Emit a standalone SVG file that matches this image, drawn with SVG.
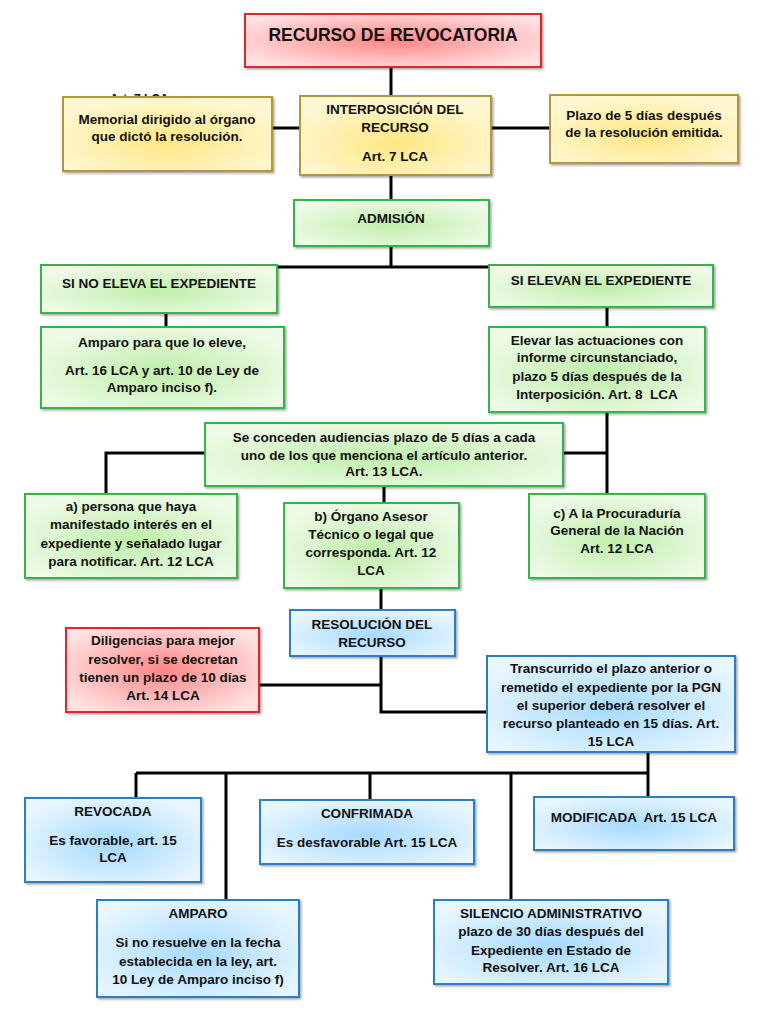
<svg xmlns="http://www.w3.org/2000/svg" width="768" height="1024" viewBox="0 0 768 1024">
<defs>
<radialGradient id="gR" cx="0.5" cy="0.5" r="0.6"><stop offset="0" stop-color="#ff8585"/><stop offset="1" stop-color="#ffe2e2"/></radialGradient>
<radialGradient id="gY" cx="0.5" cy="0.6" r="0.6"><stop offset="0" stop-color="#fde782"/><stop offset="1" stop-color="#fff7d2"/></radialGradient>
<radialGradient id="gG" cx="0.5" cy="0.55" r="0.6"><stop offset="0" stop-color="#bfeeaa"/><stop offset="1" stop-color="#effbe8"/></radialGradient>
<radialGradient id="gB" cx="0.5" cy="0.55" r="0.6"><stop offset="0" stop-color="#a6daff"/><stop offset="1" stop-color="#e8f6ff"/></radialGradient>
<filter id="sh" x="-5%" y="-5%" width="110%" height="115%"><feDropShadow dx="1.5" dy="1.5" stdDeviation="0.8" flood-color="#000" flood-opacity="0.35"/></filter>
</defs>
<style>
.t{font-family:"Liberation Sans",Arial,sans-serif;font-weight:bold;font-size:13.5px;text-anchor:middle;fill:#111;white-space:pre}
.ti{font-size:17.5px}
.r{fill:url(#gR);stroke:#e0262c;stroke-width:2;filter:url(#sh)}
.y{fill:url(#gY);stroke:#b3953a;stroke-width:2;filter:url(#sh)}
.g{fill:url(#gG);stroke:#35b548;stroke-width:2;filter:url(#sh)}
.b{fill:url(#gB);stroke:#2a7fc4;stroke-width:2;filter:url(#sh)}
.c{fill:none;stroke:#000;stroke-width:3}
</style>
<rect width="768" height="1024" fill="#fff"/>
<text class="t" x="110" y="103" style="text-anchor:start;font-size:12px">Art. 7 LCA</text>
<g id="connectors">
<path class="c" d="M391 67V96"/>
<path class="c" d="M272 128H300"/>
<path class="c" d="M491 128H550"/>
<path class="c" d="M391 175V200"/>
<path class="c" d="M391 246V267M277 267H489"/>
<path class="c" d="M166 313V327"/>
<path class="c" d="M607 307V327"/>
<path class="c" d="M607 412V494M563 453H607"/>
<path class="c" d="M205 453H106V494"/>
<path class="c" d="M384 486V503"/>
<path class="c" d="M381 588V610"/>
<path class="c" d="M381 656V712H487M259 685H381"/>
<path class="c" d="M648 752V797M136 773H648M136 773V798M226 773V900M370 773V800M511 773V900"/>
</g>
<g id="titulo"><rect class="r" x="245" y="14" width="296" height="53"/><text class="t ti" x="393" y="41">RECURSO DE REVOCATORIA</text></g>
<g id="memorial"><rect class="y" x="63" y="97" width="209" height="74"/><text class="t" x="167" y="124">Memorial dirigido al órgano</text><text class="t" x="167" y="141">que dictó la resolución.</text></g>
<g id="interposicion"><rect class="y" x="300" y="96" width="191" height="79"/><text class="t" x="395" y="114">INTERPOSICIÓN DEL</text><text class="t" x="395" y="132">RECURSO</text><text class="t" x="395" y="161">Art. 7 LCA</text></g>
<g id="plazo"><rect class="y" x="550" y="95" width="188" height="68"/><text class="t" x="644" y="120">Plazo de 5 días después</text><text class="t" x="644" y="137">de la resolución emitida.</text></g>
<g id="admision"><rect class="g" x="294" y="200" width="195" height="46"/><text class="t" x="391" y="223">ADMISIÓN</text></g>
<g id="sinoeleva"><rect class="g" x="41" y="265" width="236" height="48"/><text class="t" x="159" y="288">SI NO ELEVA EL EXPEDIENTE</text></g>
<g id="sielevan"><rect class="g" x="489" y="265" width="224" height="42"/><text class="t" x="601" y="285">SI ELEVAN EL EXPEDIENTE</text></g>
<g id="amparo1"><rect class="g" x="41" y="327" width="243" height="81"/><text class="t" x="162" y="347">Amparo para que lo eleve,</text><text class="t" x="162" y="375">Art. 16 LCA y art. 10 de Ley de</text><text class="t" x="162" y="392">Amparo inciso f).</text></g>
<g id="elevar"><rect class="g" x="489" y="327" width="216" height="85"/><text class="t" x="597" y="345">Elevar las actuaciones con</text><text class="t" x="597" y="362">informe circunstanciado,</text><text class="t" x="597" y="381">plazo 5 días después de la</text><text class="t" x="597" y="399">Interposición. Art. 8  LCA</text></g>
<g id="audiencias"><rect class="g" x="205" y="423" width="358" height="63"/><text class="t" x="384" y="442">Se conceden audiencias plazo de 5 días a cada</text><text class="t" x="384" y="460">uno de los que menciona el artículo anterior.</text><text class="t" x="384" y="476">Art. 13 LCA.</text></g>
<g id="a"><rect class="g" x="25" y="494" width="212" height="84"/><text class="t" x="131" y="511">a) persona que haya</text><text class="t" x="131" y="529">manifestado interés en el</text><text class="t" x="131" y="548">expediente y señalado lugar</text><text class="t" x="131" y="566">para notificar. Art. 12 LCA</text></g>
<g id="b"><rect class="g" x="284" y="503" width="175" height="85"/><text class="t" x="371" y="521">b) Órgano Asesor</text><text class="t" x="371" y="539">Técnico o legal que</text><text class="t" x="371" y="557">corresponda. Art. 12</text><text class="t" x="371" y="575">LCA</text></g>
<g id="c"><rect class="g" x="529" y="494" width="176" height="84"/><text class="t" x="617" y="518">c) A la Procuraduría</text><text class="t" x="617" y="535">General de la Nación</text><text class="t" x="617" y="553">Art. 12 LCA</text></g>
<g id="resolucion"><rect class="b" x="290" y="610" width="165" height="46"/><text class="t" x="372" y="629">RESOLUCIÓN DEL</text><text class="t" x="372" y="647">RECURSO</text></g>
<g id="diligencias"><rect class="r" x="66" y="628" width="193" height="84"/><text class="t" x="163" y="645">Diligencias para mejor</text><text class="t" x="163" y="664">resolver, si se decretan</text><text class="t" x="163" y="682">tienen un plazo de 10 días</text><text class="t" x="163" y="700">Art. 14 LCA</text></g>
<g id="transcurrido"><rect class="b" x="487" y="656" width="248" height="96"/><text class="t" x="611" y="673">Transcurrido el plazo anterior o</text><text class="t" x="611" y="692">remetido el expediente por la PGN</text><text class="t" x="611" y="710">el superior deberá resolver el</text><text class="t" x="611" y="728">recurso planteado en 15 días. Art.</text><text class="t" x="611" y="746">15 LCA</text></g>
<g id="revocada"><rect class="b" x="25" y="798" width="176" height="84"/><text class="t" x="113" y="816">REVOCADA</text><text class="t" x="113" y="845">Es favorable, art. 15</text><text class="t" x="113" y="862">LCA</text></g>
<g id="confrimada"><rect class="b" x="260" y="800" width="214" height="64"/><text class="t" x="367" y="818">CONFRIMADA</text><text class="t" x="367" y="847">Es desfavorable Art. 15 LCA</text></g>
<g id="modificada"><rect class="b" x="534" y="797" width="200" height="53"/><text class="t" x="634" y="822">MODIFICADA  Art. 15 LCA</text></g>
<g id="amparo2"><rect class="b" x="97" y="900" width="202" height="97"/><text class="t" x="198" y="918">AMPARO</text><text class="t" x="198" y="947">Si no resuelve en la fecha</text><text class="t" x="198" y="966">establecida en la ley, art.</text><text class="t" x="198" y="984">10 Ley de Amparo inciso f)</text></g>
<g id="silencio"><rect class="b" x="434" y="900" width="234" height="84"/><text class="t" x="551" y="918">SILENCIO ADMINISTRATIVO</text><text class="t" x="551" y="936">plazo de 30 días después del</text><text class="t" x="551" y="955">Expediente en Estado de</text><text class="t" x="551" y="972">Resolver. Art. 16 LCA</text></g>
</svg>
